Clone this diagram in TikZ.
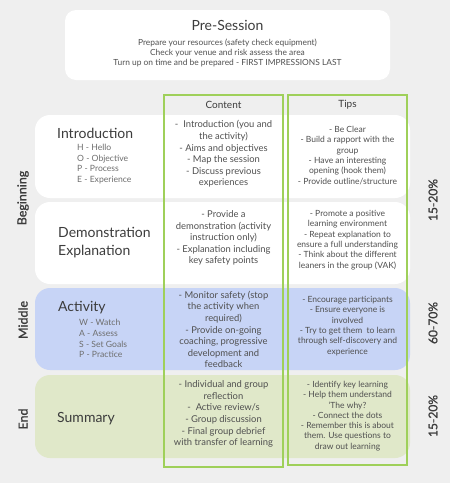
\documentclass[tikz,border=0pt]{standalone}
\usepackage{fontspec}
\setmainfont{Lato}
\newfontfamily\medfont[FakeBold=1.2]{Lato}
\definecolor{bgc}{HTML}{EFEFEF}
\definecolor{rowblue}{HTML}{C7D4F6}
\definecolor{rowgreen}{HTML}{E0E8C9}
\definecolor{colgreen}{HTML}{9FD05A}
\definecolor{txt}{HTML}{505050}
\definecolor{txtlight}{HTML}{6E6E6E}
\definecolor{txtdark}{HTML}{3C3C3C}
\begin{document}
\begin{tikzpicture}[x=1pt,y=-1pt,
  rowbox/.style={draw=none,rounded corners=15pt},
  colbox/.style={draw=colgreen,line width=1.8pt},
  bigtitle/.style={text=txtdark,font=\fontsize{14}{17}\selectfont,inner sep=0pt},
  rowtitle/.style={text=txtdark,font=\fontsize{14}{18}\selectfont,inner sep=0pt,anchor=west,align=left},
  mnemo/.style={text=txtlight,font=\fontsize{8.6}{10.8}\selectfont,inner sep=0pt,anchor=west,align=left},
  pretext/.style={text=txt,font=\fontsize{8.4}{10}\selectfont,inner sep=0pt,align=center},
  contenttext/.style={text=txt,font=\fontsize{9.4}{11.6}\selectfont,inner sep=0pt,align=center},
  tipstext/.style={text=txt,font=\fontsize{8.5}{10.3}\selectfont,inner sep=0pt,align=center},
  header/.style={text=txtdark,font=\fontsize{10}{12}\selectfont,inner sep=0pt},
  sidelabel/.style={text=txtdark,font=\fontsize{12.5}{14}\medfont,rotate=90,inner sep=0pt},
  pctlabel/.style={text=txtdark,font=\fontsize{12}{14}\medfont,rotate=90,inner sep=0pt}
]
\fill[bgc] (0,0) rectangle (450,483);
\useasboundingbox (0,0) rectangle (450,483);

% Pre-session box
\fill[white,rowbox,rounded corners=11pt] (65,10) rectangle (390,80);
\node[bigtitle] (pretitle) at (227.5,25) {Pre-Session};
\node[pretext] (prebody) at (227.5,53) {Prepare your resources (safety check equipment)\\Check your venue and risk assess the area\\Turn up on time and be prepared - FIRST IMPRESSIONS LAST};

% Row boxes
\fill[white,rowbox] (35,115) rectangle (410,198);
\fill[white,rowbox] (35,202) rectangle (410,284);
\fill[rowblue,rowbox] (35,288) rectangle (410,370);
\fill[rowgreen,rowbox] (35,375) rectangle (410,458);

% Column outlines
\draw[colbox] (164,95) rectangle (283,467);
\draw[colbox] (288,95) rectangle (407,465);
\node[header] (hcontent) at (223.5,105) {Content};
\node[header] (htips) at (347.5,105) {Tips};

% Introduction row
\node[rowtitle] (intro) at (57,133) {Introduction};
\node[mnemo] (hope) at (77,164) {H - Hello\\O - Objective\\P - Process\\E - Experience};
\node[contenttext] (c1) at (223.5,154) {-\ \ Introduction (you and\\the activity)\\- Aims and objectives\\- Map the session\\- Discuss previous\\experiences};
\node[tipstext] (t1) at (347.5,155.5) {- Be Clear\\- Build a rapport with the\\group\\- Have an interesting\\opening (hook them)\\- Provide outline/structure};

% Demonstration row
\node[rowtitle] (demo) at (58,243) {Demonstration\\Explanation};
\node[contenttext] (c2) at (223.5,238) {- Provide a\\demonstration (activity\\instruction only)\\- Explanation including\\key safety points};
\node[tipstext] (t2) at (347.5,240) {- Promote a positive\\learning environment\\- Repeat explanation to\\ensure a full understanding\\- Think about the different\\leaners in the group (VAK)};

% Activity row
\node[rowtitle] (act) at (58,308) {Activity};
\node[mnemo] (wasp) at (79,338.5) {W - Watch\\A - Assess\\S - Set Goals\\P - Practice};
\node[contenttext] (c3) at (223.5,329.5) {- Monitor safety (stop\\the activity when\\required)\\- Provide on-going\\coaching, progressive\\development and\\feedback};
\node[tipstext] (t3) at (347.5,326) {- Encourage participants\\- Ensure everyone is\\involved\\- Try to get them\ \ to learn\\through self-discovery and\\experience};

% Summary row
\node[rowtitle] (summ) at (57,419) {Summary};
\node[contenttext] (c4) at (223.5,414) {- Individual and group\\reflection\\-\ \ Active review/s\\- Group discussion\\- Final group debrief\\with transfer of learning};
\node[tipstext] (t4) at (347.5,416) {- Identify key learning\\- Help them understand\\`The why?\\- Connect the dots\\- Remember this is about\\them. Use questions to\\draw out learning};

% Side labels
\node[sidelabel] (lbeg) at (23,198) {Beginning};
\node[sidelabel] (lmid) at (23,320) {Middle};
\node[sidelabel] (lend) at (23,419) {End};
\node[pctlabel] (p1) at (433,200) {15-20\%};
\node[pctlabel] (p2) at (433,323) {60-70\%};
\node[pctlabel] (p3) at (433,416) {15-20\%};
\end{tikzpicture}
\end{document}
